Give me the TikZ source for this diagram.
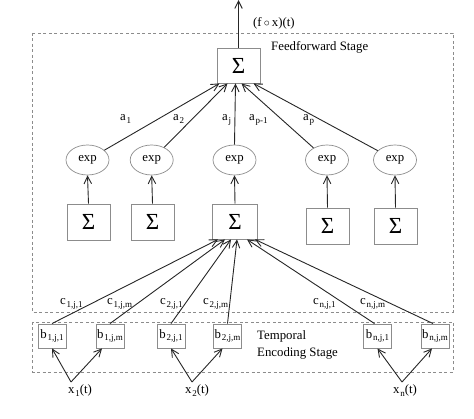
\documentclass[tikz,border=0pt]{standalone}
\usepackage{fontspec}
\setmainfont{Liberation Serif}
\usetikzlibrary{arrows.meta,shapes.geometric}
\newcommand\sbs[1]{\kern0.8pt\raisebox{-0.45ex}{\fontsize{9}{9}\selectfont #1}}
\newcommand\sig{{\fontsize{23}{23}\selectfont Σ}}
\begin{document}
\begin{tikzpicture}[x=1pt,y=-1pt,
  font=\fontsize{12.8}{15}\selectfont,
  sbox/.style={draw=black!45, line width=0.9pt, minimum width=43pt, minimum height=36pt, inner sep=0pt},
  ebox/.style={ellipse, draw=black!45, line width=0.7pt, minimum width=43pt, minimum height=30pt, inner sep=0pt},
  bbox/.style={draw=black!45, line width=0.9pt, minimum width=28pt, minimum height=24pt, inner sep=1pt},
  arr/.style={-{Straight Barb[length=7.5pt,width=7.5pt]}, line width=0.9pt, black!85},
  stage/.style={draw=black!45, dashed, dash pattern=on 3pt off 2.5pt, line width=0.6pt},
  lbl/.style={inner sep=0pt, anchor=base west}
]
\useasboundingbox (0,0) rectangle (474,419);
% stage boxes
\draw[stage] (32,33) rectangle (453,312);
\draw[stage] (32,322) rectangle (453,372);
% top sum
\node[sbox, minimum width=43pt, minimum height=35pt] (top) at (238.5,65.5) {\sig};
\coordinate (out) at (238.5,0);
\draw[arr] (top.north) -- (out);
\node[lbl] (fx) at (253,27) {(f\,$\circ$\,x)(t)};
\node[lbl] (ff) at (271,51) {Feedforward Stage};
% exp nodes
\node[ebox] (e1) at (87.5,160) {exp};
\node[ebox] (e2) at (151.7,160) {exp};
\node[ebox] (e3) at (234.5,160) {exp};
\node[ebox] (e4) at (327,160) {exp};
\node[ebox] (e5) at (395,160) {exp};
% sums
\node[sbox] (s1) at (88.5,222) {\sig};
\node[sbox] (s2) at (152.5,222) {\sig};
\node[sbox, minimum width=45pt, minimum height=35pt] (s3) at (235,221.5) {\sig};
\node[sbox] (s4) at (327.5,226) {\sig};
\node[sbox] (s5) at (395.5,226) {\sig};
\foreach \i in {1,...,5} {\draw[arr] (s\i.north) -- (e\i.south);}
% exp to top
\draw[arr] (e1) -- ([xshift=-19pt]top.south);
\draw[arr] (e2) -- ([xshift=-11pt]top.south);
\draw[arr] (e3.north) -- ([xshift=-3pt]top.south);
\draw[arr] (e4) -- ([xshift=3pt]top.south);
\draw[arr] (e5) -- ([xshift=15pt]top.south);
\node[lbl] (a1) at (120,121) {a\sbs{1}};
\node[lbl] (a2) at (173,121) {a\sbs{2}};
\node[lbl] (aj) at (222,121) {a\sbs{j}};
\node[lbl] (ap1) at (249,121) {a\sbs{p-1}};
\node[lbl] (ap) at (303,121) {a\sbs{p}};
% b boxes
\node[bbox] (b1) at (52,336) {b\sbs{1,j,1}};
\node[bbox] (b2) at (110,336) {b\sbs{1,j,m}};
\node[bbox] (b3) at (171,336) {b\sbs{2,j,1}};
\node[bbox] (b4) at (227.5,336) {b\sbs{2,j,m}};
\node[bbox] (b5) at (377.5,336) {b\sbs{n,j,1}};
\node[bbox] (b6) at (435,336) {b\sbs{n,j,m}};
% b to s3
\draw[arr] (b1.north) -- ([xshift=-17pt]s3.south);
\draw[arr] (b2.north) -- ([xshift=-10pt]s3.south);
\draw[arr] (b3.north) -- ([xshift=-4pt]s3.south);
\draw[arr] (b4.north) -- ([xshift=2pt]s3.south);
\draw[arr] ([xshift=-3pt]b5.north) -- ([xshift=12pt]s3.south);
\draw[arr] ([xshift=-2pt]b6.north) -- ([xshift=20pt]s3.south);
\node[lbl] (c1) at (60,305) {c\sbs{1,j,1}};
\node[lbl] (c2) at (107,305) {c\sbs{1,j,m}};
\node[lbl] (c3) at (160,305) {c\sbs{2,j,1}};
\node[lbl] (c4) at (203,305) {c\sbs{2,j,m}};
\node[lbl] (c5) at (313,305) {c\sbs{n,j,1}};
\node[lbl] (c6) at (360,305) {c\sbs{n,j,m}};
% temporal label
\node[lbl] (tmp) at (257,340) {Temporal};
\node[lbl] (enc) at (257,357) {Encoding Stage};
% inputs
\node[lbl] (x1) at (68,394) {x\sbs{1}(t)};
\node[lbl] (x2) at (185,394) {x\sbs{2}(t)};
\node[lbl] (xn) at (393,394) {x\sbs{n}(t)};
\coordinate (x1t) at (71,382);
\coordinate (x2t) at (192,382);
\coordinate (xnt) at (402,382);
\draw[arr] (x1t) -- (b1.south);
\draw[arr] (x1t) -- ([xshift=-8pt]b2.south);
\draw[arr] (x2t) -- (b3.south);
\draw[arr] (x2t) -- ([xshift=-5pt]b4.south);
\draw[arr] (xnt) -- (b5.south);
\draw[arr] (xnt) -- ([xshift=-3pt]b6.south);
\end{tikzpicture}
\end{document}
